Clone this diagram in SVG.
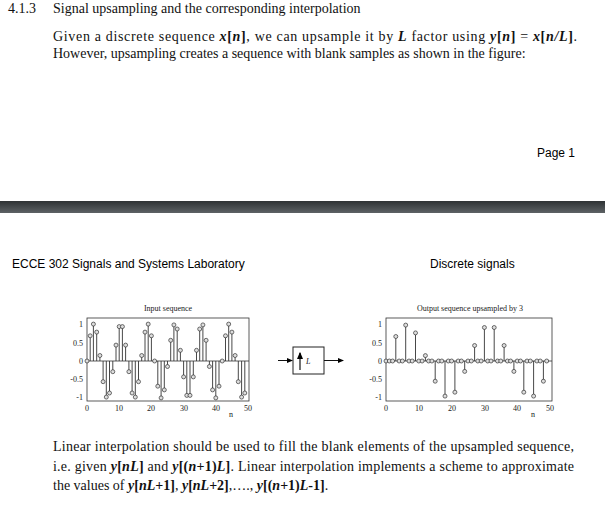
<svg xmlns="http://www.w3.org/2000/svg" width="605" height="515" viewBox="0 0 605 515">
<defs>
<linearGradient id="band" x1="0" y1="0" x2="0" y2="1"><stop offset="0" stop-color="#2e3234"/><stop offset="1" stop-color="#5d6265"/></linearGradient>
<marker id="ah" markerWidth="6" markerHeight="6" refX="5" refY="3" orient="auto"><path d="M0,0.5 L6,3 L0,5.5 z" fill="#000"/></marker>
<style>
.s{font-family:"Liberation Serif",serif;font-size:14px;fill:#111}
.a{font-family:"Liberation Sans",sans-serif;font-size:12px;fill:#000}
.t{font-family:"Liberation Serif",serif;font-size:8px;fill:#222}
.r{text-anchor:end}.m{text-anchor:middle}
.ax{fill:none;stroke:#333;stroke-width:0.8}
.st{stroke:#333;stroke-width:0.9;fill:none}
.c{fill:#ddd;stroke:#333;stroke-width:0.7}
</style>
</defs>
<rect width="605" height="515" fill="#fff"/>
<text class="s" x="8" y="13">4.1.3</text>
<text class="s" x="53" y="13">Signal upsampling and the corresponding interpolation</text>
<text class="s" x="53" y="41" textLength="524" lengthAdjust="spacing">Given a discrete sequence <tspan font-weight="bold" font-style="italic">x</tspan><tspan font-weight="bold">[</tspan><tspan font-weight="bold" font-style="italic">n</tspan><tspan font-weight="bold">]</tspan>, we can upsample it by <tspan font-weight="bold" font-style="italic">L</tspan> factor using <tspan font-weight="bold" font-style="italic">y</tspan><tspan font-weight="bold">[</tspan><tspan font-weight="bold" font-style="italic">n</tspan><tspan font-weight="bold">]</tspan> = <tspan font-weight="bold" font-style="italic">x</tspan><tspan font-weight="bold">[</tspan><tspan font-weight="bold" font-style="italic">n/L</tspan><tspan font-weight="bold">]</tspan>.</text>
<text class="s" x="53" y="58">However, upsampling creates a sequence with blank samples as shown in the figure:</text>
<text class="a" x="537" y="157">Page 1</text>
<rect x="0" y="201" width="605" height="12" fill="url(#band)"/>
<text class="a" x="12" y="268">ECCE 302 Signals and Systems Laboratory</text>
<text class="a" x="430" y="268">Discrete signals</text>

<g id="input-plot">
<text class="t m" x="168" y="311">Input sequence</text>
<rect class="ax" x="87" y="318" width="162" height="83"/>
<line class="ax" x1="87" y1="361" x2="249" y2="361"/>
<g class="t r"><text x="83" y="327">1</text><text x="83" y="346">0.5</text><text x="83" y="364">0</text><text x="83" y="382">-0.5</text><text x="83" y="400">-1</text></g>
<g class="t m"><text x="87" y="411">0</text><text x="119" y="411">10</text><text x="151" y="411">20</text><text x="184" y="411">30</text><text x="216" y="411">40</text><text x="248" y="411">50</text><text x="231" y="417">n</text></g>
<path class="st" d="M90.2 361V335.8M93.4 361V324.1M96.7 361V332.1M99.9 361V355.5M103.1 361V381.7M106.3 361V397.1M109.5 361V393M112.8 361V371.7M116 361V345.1M119.2 361V326.6M122.4 361V326.6M125.6 361V345.1M128.9 361V371.7M132.1 361V393M135.3 361V397.1M138.5 361V381.7M141.7 361V355.5M145 361V332.1M148.2 361V324.1M151.4 361V335.8M157.8 361V386.2M161.1 361V397.9M164.3 361V389.9M167.5 361V366.5M170.7 361V340.3M173.9 361V324.9M177.2 361V329M180.4 361V350.3M183.6 361V376.9M186.8 361V395.4M190 361V395.4M193.3 361V376.9M196.5 361V350.3M199.7 361V329M202.9 361V324.9M206.1 361V340.3M209.4 361V366.5M212.6 361V389.9M215.8 361V397.9M219 361V386.2M225.5 361V335.8M228.7 361V324.1M231.9 361V332.1M235.1 361V355.5M238.3 361V381.7M241.6 361V397.1M244.8 361V393"/>
<g class="c">
<circle cx="87" cy="361" r="2"/><circle cx="90.2" cy="335.8" r="2"/><circle cx="93.4" cy="324.1" r="2"/><circle cx="96.7" cy="332.1" r="2"/><circle cx="99.9" cy="355.5" r="2"/><circle cx="103.1" cy="381.7" r="2"/><circle cx="106.3" cy="397.1" r="2"/><circle cx="109.5" cy="393" r="2"/><circle cx="112.8" cy="371.7" r="2"/><circle cx="116" cy="345.1" r="2"/><circle cx="119.2" cy="326.6" r="2"/><circle cx="122.4" cy="326.6" r="2"/><circle cx="125.6" cy="345.1" r="2"/><circle cx="128.9" cy="371.7" r="2"/><circle cx="132.1" cy="393" r="2"/><circle cx="135.3" cy="397.1" r="2"/><circle cx="138.5" cy="381.7" r="2"/><circle cx="141.7" cy="355.5" r="2"/><circle cx="145" cy="332.1" r="2"/><circle cx="148.2" cy="324.1" r="2"/><circle cx="151.4" cy="335.8" r="2"/><circle cx="154.6" cy="361" r="2"/><circle cx="157.8" cy="386.2" r="2"/><circle cx="161.1" cy="397.9" r="2"/><circle cx="164.3" cy="389.9" r="2"/><circle cx="167.5" cy="366.5" r="2"/><circle cx="170.7" cy="340.3" r="2"/><circle cx="173.9" cy="324.9" r="2"/><circle cx="177.2" cy="329" r="2"/><circle cx="180.4" cy="350.3" r="2"/><circle cx="183.6" cy="376.9" r="2"/><circle cx="186.8" cy="395.4" r="2"/><circle cx="190" cy="395.4" r="2"/><circle cx="193.3" cy="376.9" r="2"/><circle cx="196.5" cy="350.3" r="2"/><circle cx="199.7" cy="329" r="2"/><circle cx="202.9" cy="324.9" r="2"/><circle cx="206.1" cy="340.3" r="2"/><circle cx="209.4" cy="366.5" r="2"/><circle cx="212.6" cy="389.9" r="2"/><circle cx="215.8" cy="397.9" r="2"/><circle cx="219" cy="386.2" r="2"/><circle cx="222.2" cy="361" r="2"/><circle cx="225.5" cy="335.8" r="2"/><circle cx="228.7" cy="324.1" r="2"/><circle cx="231.9" cy="332.1" r="2"/><circle cx="235.1" cy="355.5" r="2"/><circle cx="238.3" cy="381.7" r="2"/><circle cx="241.6" cy="397.1" r="2"/><circle cx="244.8" cy="393" r="2"/>
</g>
</g>

<g id="upsampler">
<rect x="293" y="347" width="31" height="27" fill="#fff" stroke="#222" stroke-width="1"/>
<line x1="300" y1="370" x2="300" y2="353" stroke="#111" stroke-width="1.2" marker-end="url(#ah)"/>
<text x="306" y="364" font-family="Liberation Serif,serif" font-style="italic" font-size="8" fill="#222">L</text>
</g>
<g id="connectors" stroke="#111" stroke-width="1">
<line x1="278" y1="360.5" x2="292" y2="360.5" marker-end="url(#ah)"/>
<line x1="324" y1="360.5" x2="343" y2="360.5" marker-end="url(#ah)"/>
</g>

<g id="output-plot">
<text class="t m" x="470" y="311">Output sequence upsampled by 3</text>
<rect class="ax" x="386" y="318" width="166" height="83"/>
<line class="ax" x1="386" y1="361" x2="552" y2="361"/>
<g class="t r"><text x="382" y="327">1</text><text x="382" y="346">0.5</text><text x="382" y="364">0</text><text x="382" y="382">-0.5</text><text x="382" y="400">-1</text></g>
<g class="t m"><text x="386" y="411">0</text><text x="419" y="411">10</text><text x="452" y="411">20</text><text x="485" y="411">30</text><text x="517" y="411">40</text><text x="550" y="411">50</text><text x="533" y="417">n</text></g>
<path class="st" d="M395.8 361V336.5M405.7 361V325.1M415.5 361V332.9M425.4 361V355.6M435.2 361V381.2M445 361V396.1M454.9 361V392.2M464.7 361V371.4M474.6 361V345.5M484.4 361V327.5M494.2 361V327.5M504.1 361V345.5M513.9 361V371.4M523.8 361V392.2M533.6 361V396.1M543.4 361V381.2"/>
<g class="c">
<circle cx="395.8" cy="336.5" r="2"/><circle cx="405.7" cy="325.1" r="2"/><circle cx="415.5" cy="332.9" r="2"/><circle cx="425.4" cy="355.6" r="2"/><circle cx="435.2" cy="381.2" r="2"/><circle cx="445" cy="396.1" r="2"/><circle cx="454.9" cy="392.2" r="2"/><circle cx="464.7" cy="371.4" r="2"/><circle cx="474.6" cy="345.5" r="2"/><circle cx="484.4" cy="327.5" r="2"/><circle cx="494.2" cy="327.5" r="2"/><circle cx="504.1" cy="345.5" r="2"/><circle cx="513.9" cy="371.4" r="2"/><circle cx="523.8" cy="392.2" r="2"/><circle cx="533.6" cy="396.1" r="2"/><circle cx="543.4" cy="381.2" r="2"/>
<circle cx="386" cy="361" r="2"/><circle cx="389.3" cy="361" r="2"/><circle cx="392.6" cy="361" r="2"/><circle cx="399.1" cy="361" r="2"/><circle cx="402.4" cy="361" r="2"/><circle cx="409" cy="361" r="2"/><circle cx="412.2" cy="361" r="2"/><circle cx="418.8" cy="361" r="2"/><circle cx="422.1" cy="361" r="2"/><circle cx="428.6" cy="361" r="2"/><circle cx="431.9" cy="361" r="2"/><circle cx="438.5" cy="361" r="2"/><circle cx="441.8" cy="361" r="2"/><circle cx="448.3" cy="361" r="2"/><circle cx="451.6" cy="361" r="2"/><circle cx="458.2" cy="361" r="2"/><circle cx="461.4" cy="361" r="2"/><circle cx="468" cy="361" r="2"/><circle cx="471.3" cy="361" r="2"/><circle cx="477.8" cy="361" r="2"/><circle cx="481.1" cy="361" r="2"/><circle cx="487.7" cy="361" r="2"/><circle cx="491" cy="361" r="2"/><circle cx="497.5" cy="361" r="2"/><circle cx="500.8" cy="361" r="2"/><circle cx="507.4" cy="361" r="2"/><circle cx="510.6" cy="361" r="2"/><circle cx="517.2" cy="361" r="2"/><circle cx="520.5" cy="361" r="2"/><circle cx="527" cy="361" r="2"/><circle cx="530.3" cy="361" r="2"/><circle cx="536.9" cy="361" r="2"/><circle cx="540.2" cy="361" r="2"/><circle cx="546.7" cy="361" r="2"/>
</g>
</g>

<text class="s" x="53" y="451" textLength="521" lengthAdjust="spacing">Linear interpolation should be used to fill the blank elements of the upsampled sequence,</text>
<text class="s" x="53" y="471" textLength="521" lengthAdjust="spacing">i.e. given <tspan font-weight="bold" font-style="italic">y</tspan><tspan font-weight="bold">[</tspan><tspan font-weight="bold" font-style="italic">nL</tspan><tspan font-weight="bold">]</tspan> and <tspan font-weight="bold" font-style="italic">y</tspan><tspan font-weight="bold">[(</tspan><tspan font-weight="bold" font-style="italic">n</tspan><tspan font-weight="bold">+1)</tspan><tspan font-weight="bold" font-style="italic">L</tspan><tspan font-weight="bold">]</tspan>. Linear interpolation implements a scheme to approximate</text>
<text class="s" x="53" y="490">the values of <tspan font-weight="bold" font-style="italic">y</tspan><tspan font-weight="bold">[</tspan><tspan font-weight="bold" font-style="italic">nL</tspan><tspan font-weight="bold">+1]</tspan>, <tspan font-weight="bold" font-style="italic">y</tspan><tspan font-weight="bold">[</tspan><tspan font-weight="bold" font-style="italic">nL</tspan><tspan font-weight="bold">+2]</tspan>,…., <tspan font-weight="bold" font-style="italic">y</tspan><tspan font-weight="bold">[(</tspan><tspan font-weight="bold" font-style="italic">n</tspan><tspan font-weight="bold">+1)</tspan><tspan font-weight="bold" font-style="italic">L</tspan><tspan font-weight="bold">-1]</tspan>.</text>
</svg>
